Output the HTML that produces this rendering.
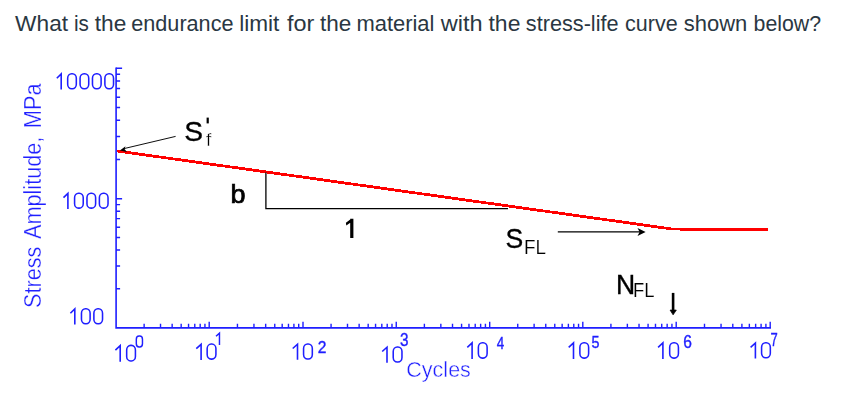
<!DOCTYPE html>
<html><head><meta charset="utf-8">
<style>
html,body{margin:0;padding:0;background:#fff;width:865px;height:400px;overflow:hidden;}
svg{position:absolute;left:0;top:0;}
#chart{will-change:transform;}
svg text{font-family:"Liberation Sans",sans-serif;}
</style></head><body>
<svg width="865" height="60" viewBox="0 0 865 60">
<text transform="translate(15.11 30.75) scale(1.0223 1)" font-size="22.2" fill="#2a3742">What</text>
<text transform="translate(74.04 30.75) scale(0.9300 1)" font-size="22.2" fill="#2a3742">is</text>
<text transform="translate(94.78 30.75) scale(1.0213 1)" font-size="22.2" fill="#2a3742">the</text>
<text transform="translate(131.29 30.75) scale(0.9747 1)" font-size="22.2" fill="#2a3742">endurance</text>
<text transform="translate(239.16 30.75) scale(1.0189 1)" font-size="22.2" fill="#2a3742">limit</text>
<text transform="translate(286.97 30.75) scale(1.0548 1)" font-size="22.2" fill="#2a3742">for</text>
<text transform="translate(319.98 30.75) scale(1.0145 1)" font-size="22.2" fill="#2a3742">the</text>
<text transform="translate(356.45 30.75) scale(0.9880 1)" font-size="22.2" fill="#2a3742">material</text>
<text transform="translate(440.85 30.75) scale(1.0605 1)" font-size="22.2" fill="#2a3742">with</text>
<text transform="translate(488.48 30.75) scale(1.0348 1)" font-size="22.2" fill="#2a3742">the</text>
<text transform="translate(525.79 30.75) scale(0.9778 1)" font-size="22.2" fill="#2a3742">stress-life</text>
<text transform="translate(625.10 30.75) scale(0.9696 1)" font-size="22.2" fill="#2a3742">curve</text>
<text transform="translate(683.78 30.75) scale(0.9901 1)" font-size="22.2" fill="#2a3742">shown</text>
<text transform="translate(753.54 30.75) scale(0.9602 1)" font-size="22.2" fill="#2a3742">below?</text>
</svg>
<svg id="chart" width="865" height="400" viewBox="0 0 865 400">
<path d="M116.1 67.6 V327.85 H771" fill="none" stroke="#1f1fff" stroke-width="1.6"/>
<path d="M144.13 327.85 v-4.2 M160.52 327.85 v-4.2 M172.15 327.85 v-4.2 M181.17 327.85 v-4.2 M188.55 327.85 v-4.2 M194.78 327.85 v-4.2 M200.18 327.85 v-4.2 M204.94 327.85 v-4.2 M237.44 327.85 v-4.2 M253.95 327.85 v-4.2 M265.67 327.85 v-4.2 M274.76 327.85 v-4.2 M282.19 327.85 v-4.2 M288.47 327.85 v-4.2 M293.91 327.85 v-4.2 M298.71 327.85 v-4.2 M331.07 327.85 v-4.2 M347.49 327.85 v-4.2 M359.14 327.85 v-4.2 M368.18 327.85 v-4.2 M375.56 327.85 v-4.2 M381.81 327.85 v-4.2 M387.21 327.85 v-4.2 M391.98 327.85 v-4.2 M424.38 327.85 v-4.2 M440.84 327.85 v-4.2 M452.51 327.85 v-4.2 M461.57 327.85 v-4.2 M468.97 327.85 v-4.2 M475.22 327.85 v-4.2 M480.64 327.85 v-4.2 M485.42 327.85 v-4.2 M517.73 327.85 v-4.2 M534.12 327.85 v-4.2 M545.75 327.85 v-4.2 M554.77 327.85 v-4.2 M562.15 327.85 v-4.2 M568.38 327.85 v-4.2 M573.78 327.85 v-4.2 M578.54 327.85 v-4.2 M610.92 327.85 v-4.2 M627.36 327.85 v-4.2 M639.03 327.85 v-4.2 M648.08 327.85 v-4.2 M655.48 327.85 v-4.2 M661.73 327.85 v-4.2 M667.15 327.85 v-4.2 M671.93 327.85 v-4.2 M704.50 327.85 v-4.2 M721.05 327.85 v-4.2 M732.79 327.85 v-4.2 M741.90 327.85 v-4.2 M749.35 327.85 v-4.2 M755.64 327.85 v-4.2 M761.09 327.85 v-4.2 M765.90 327.85 v-4.2 M209.20 327.85 v-6 M303.00 327.85 v-6 M396.25 327.85 v-6 M489.70 327.85 v-6 M582.80 327.85 v-6 M676.20 327.85 v-6 M770.20 327.85 v-6 M116.1 288.73 h4 M116.1 266.05 h4 M116.1 249.95 h4 M116.1 237.47 h4 M116.1 227.27 h4 M116.1 218.65 h4 M116.1 211.18 h4 M116.1 204.59 h4 M116.1 159.45 h4 M116.1 136.48 h4 M116.1 120.19 h4 M116.1 107.55 h4 M116.1 97.23 h4 M116.1 88.50 h4 M116.1 80.94 h4 M116.1 74.27 h4 M116.1 198.70 h6 M116.1 68.30 h6" fill="none" stroke="#1f1fff" stroke-width="1.4"/>
<polyline points="116.8,150.95 672.7,229.1 768.2,229.3" fill="none" stroke="#ff0000" stroke-width="2.8" shape-rendering="crispEdges"/>
<path d="M265.9 172.5 V208.55 H508" fill="none" stroke="#000" stroke-width="1.3"/>
<line x1="175.6" y1="136.4" x2="124" y2="148.6" stroke="#000" stroke-width="0.95"/>
<path d="M119.9 150.4 L125.5 146.3 L124.5 149 L127 151.9 Z" fill="#000"/>
<line x1="557.8" y1="231.9" x2="640" y2="231.9" stroke="#000" stroke-width="1.3"/>
<path d="M645.6 232.0 L637.5 228.0 L639.6 231.9 L637.5 236.0 Z" fill="#000"/>
<line x1="673.1" y1="292.9" x2="673.1" y2="311" stroke="#000" stroke-width="2.6"/>
<path d="M670.1 310.1 L676.3 310.1 L673.1 314.8 Z" fill="#000" stroke="#000" stroke-width="0.8" stroke-linejoin="round"/>
<path d="M56.80 78.25 L61.20 74.00 V89.50" fill="none" stroke="#1f1fff" stroke-width="1.6" stroke-linejoin="miter"/>
<rect x="67.67" y="73.78" width="8.65" height="14.95" rx="3.98" ry="4.50" fill="none" stroke="#1f1fff" stroke-width="1.55"/>
<rect x="80.08" y="73.78" width="8.65" height="14.95" rx="3.98" ry="4.50" fill="none" stroke="#1f1fff" stroke-width="1.55"/>
<rect x="92.47" y="73.78" width="8.65" height="14.95" rx="3.98" ry="4.50" fill="none" stroke="#1f1fff" stroke-width="1.55"/>
<rect x="104.88" y="73.78" width="8.65" height="14.95" rx="3.98" ry="4.50" fill="none" stroke="#1f1fff" stroke-width="1.55"/>
<path d="M63.50 197.65 L67.90 193.40 V208.90" fill="none" stroke="#1f1fff" stroke-width="1.6" stroke-linejoin="miter"/>
<rect x="74.58" y="193.18" width="8.65" height="14.95" rx="3.98" ry="4.50" fill="none" stroke="#1f1fff" stroke-width="1.55"/>
<rect x="86.97" y="193.18" width="8.65" height="14.95" rx="3.98" ry="4.50" fill="none" stroke="#1f1fff" stroke-width="1.55"/>
<rect x="99.38" y="193.18" width="8.65" height="14.95" rx="3.98" ry="4.50" fill="none" stroke="#1f1fff" stroke-width="1.55"/>
<path d="M70.40 313.25 L74.80 309.00 V324.50" fill="none" stroke="#1f1fff" stroke-width="1.6" stroke-linejoin="miter"/>
<rect x="81.47" y="308.77" width="8.65" height="14.95" rx="3.98" ry="4.50" fill="none" stroke="#1f1fff" stroke-width="1.55"/>
<rect x="93.88" y="308.77" width="8.65" height="14.95" rx="3.98" ry="4.50" fill="none" stroke="#1f1fff" stroke-width="1.55"/>
<path d="M115.40 350.04 L120.20 345.60 V361.70" fill="none" stroke="#1f1fff" stroke-width="1.6" stroke-linejoin="miter"/>
<rect x="126.67" y="345.38" width="8.75" height="15.55" rx="4.02" ry="4.55" fill="none" stroke="#1f1fff" stroke-width="1.55"/>
<rect x="136.32" y="335.93" width="6.15" height="11.05" rx="2.83" ry="3.20" fill="none" stroke="#1f1fff" stroke-width="1.45"/>
<path d="M196.30 348.58 L201.10 344.30 V359.90" fill="none" stroke="#1f1fff" stroke-width="1.6" stroke-linejoin="miter"/>
<rect x="207.17" y="344.07" width="8.75" height="15.05" rx="4.03" ry="4.55" fill="none" stroke="#1f1fff" stroke-width="1.55"/>
<path d="M216.00 336.34 L219.47 333.12 V345.10" fill="none" stroke="#1f1fff" stroke-width="1.45" stroke-linejoin="miter"/>
<path d="M292.70 348.50 L297.50 344.25 V359.75" fill="none" stroke="#1f1fff" stroke-width="1.6" stroke-linejoin="miter"/>
<rect x="303.57" y="344.02" width="8.75" height="14.95" rx="4.03" ry="4.55" fill="none" stroke="#1f1fff" stroke-width="1.55"/>
<text transform="translate(317.82 352.80) scale(0.9369 1)" font-size="16.62" fill="#1f1fff" stroke="#1f1fff" stroke-width="0.4">2</text>
<path d="M382.20 351.50 L387.00 347.20 V362.85" fill="none" stroke="#1f1fff" stroke-width="1.6" stroke-linejoin="miter"/>
<rect x="393.22" y="346.97" width="8.75" height="15.10" rx="4.03" ry="4.55" fill="none" stroke="#1f1fff" stroke-width="1.55"/>
<text transform="translate(400.12 346.27) scale(0.8561 1)" font-size="17.87" fill="#1f1fff" stroke="#1f1fff" stroke-width="0.4">3</text>
<path d="M467.30 347.31 L472.10 342.90 V358.90" fill="none" stroke="#1f1fff" stroke-width="1.6" stroke-linejoin="miter"/>
<rect x="478.37" y="342.67" width="8.75" height="15.45" rx="4.03" ry="4.55" fill="none" stroke="#1f1fff" stroke-width="1.55"/>
<text transform="translate(496.80 348.90) scale(0.7770 1)" font-size="17.30" fill="#1f1fff" stroke="#1f1fff" stroke-width="0.4">4</text>
<path d="M568.70 347.31 L573.50 342.90 V358.90" fill="none" stroke="#1f1fff" stroke-width="1.6" stroke-linejoin="miter"/>
<rect x="579.88" y="342.67" width="8.75" height="15.45" rx="4.02" ry="4.55" fill="none" stroke="#1f1fff" stroke-width="1.55"/>
<text transform="translate(591.53 348.34) scale(0.8707 1)" font-size="16.48" fill="#1f1fff" stroke="#1f1fff" stroke-width="0.4">5</text>
<path d="M658.10 347.31 L662.90 342.90 V358.90" fill="none" stroke="#1f1fff" stroke-width="1.6" stroke-linejoin="miter"/>
<rect x="669.68" y="342.67" width="8.75" height="15.45" rx="4.02" ry="4.55" fill="none" stroke="#1f1fff" stroke-width="1.55"/>
<text transform="translate(683.32 347.52) scale(0.8898 1)" font-size="17.51" fill="#1f1fff" stroke="#1f1fff" stroke-width="0.4">6</text>
<path d="M750.60 347.28 L755.40 343.00 V358.60" fill="none" stroke="#1f1fff" stroke-width="1.6" stroke-linejoin="miter"/>
<rect x="761.58" y="342.77" width="8.75" height="15.05" rx="4.02" ry="4.55" fill="none" stroke="#1f1fff" stroke-width="1.55"/>
<text transform="translate(770.62 346.30) scale(0.7329 1)" font-size="17.73" fill="#1f1fff" stroke="#1f1fff" stroke-width="0.4">7</text>
<text transform="translate(406.32 377.10) scale(0.9735 1)" font-size="22.10" fill="#1f1fff" stroke="#fff" stroke-width="0.4">Cycles</text>
<text transform="translate(41.2 308.00) rotate(-90) scale(0.8991 1)" font-size="24.13" fill="#1f1fff" stroke="#fff" stroke-width="0.3">Stress</text>
<text transform="translate(41.2 239.04) rotate(-90) scale(0.8983 1)" font-size="24.13" fill="#1f1fff" stroke="#fff" stroke-width="0.3">Amplitude,</text>
<text transform="translate(41.2 128.18) rotate(-90) scale(0.9018 1)" font-size="24.13" fill="#1f1fff" stroke="#fff" stroke-width="0.3">MPa</text>
<text transform="translate(184.31 140.82) scale(1.0006 1)" font-size="28.11" fill="#000" stroke="#000" stroke-width="0.35">S</text>
<rect x="206.6" y="117.6" width="2.2" height="5.8" fill="#000"/>
<text transform="translate(205.71 145.80) scale(1.1089 1)" font-size="18.65" fill="#000" stroke="#fff" stroke-width="0.5">f</text>
<text transform="translate(230.57 202.94) scale(1.0486 1)" font-size="25.75" fill="#000" stroke="#000" stroke-width="0.75">b</text>
<path d="M350.2 218.75 H353.4 V237.9 H350.2 Z M345.9 222.7 L350.6 219.2 L350.6 222.4 L346.3 225.4 Z" fill="#000"/>
<text transform="translate(505.48 248.03) scale(0.9898 1)" font-size="26.84" fill="#000" stroke="#000" stroke-width="0.35">S</text>
<text transform="translate(523.96 254.30) scale(0.9249 1)" font-size="20.35" fill="#000" stroke="#fff" stroke-width="0.15">FL</text>
<text transform="translate(616.03 293.80) scale(0.9706 1)" font-size="27.33" fill="#000" stroke="#000" stroke-width="0.4">N</text>
<text transform="translate(633.09 296.80) scale(0.9329 1)" font-size="19.77" fill="#000" stroke="#fff" stroke-width="0.15">FL</text>
</svg>
</body></html>
